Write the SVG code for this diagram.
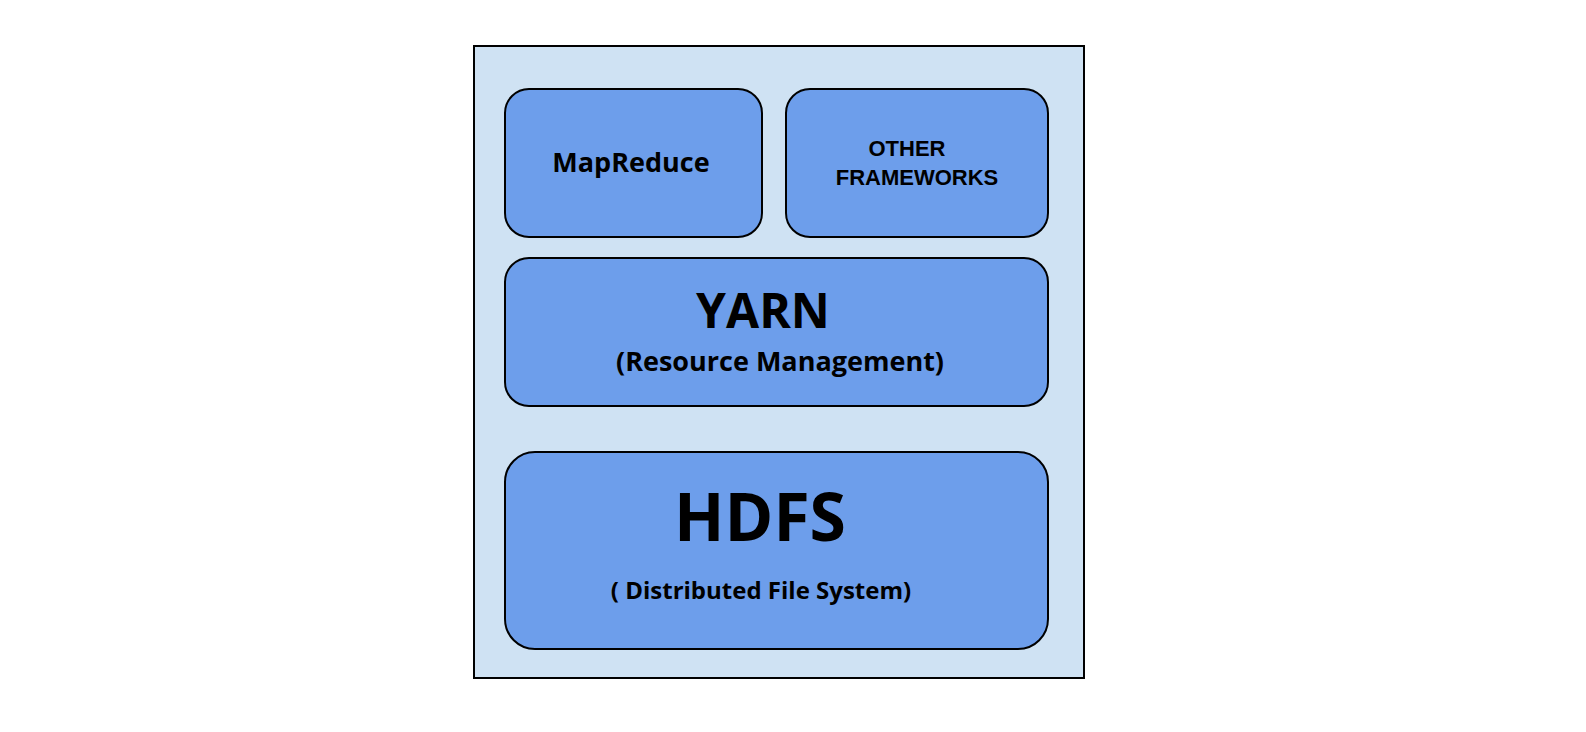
<svg xmlns="http://www.w3.org/2000/svg" width="1586" height="732" viewBox="0 0 1586 732">
<style>
.box{fill:#6d9eeb;stroke:#000;stroke-width:2}
.t{font-family:"Open Sans",sans-serif;font-weight:bold;fill:#000;text-anchor:middle}
.a{font-family:"Liberation Sans",Arial,sans-serif;font-weight:bold;fill:#000;text-anchor:middle}
</style>
<rect width="1586" height="732" fill="#fff"/>
<g id="outer"><rect x="474" y="46" width="610" height="632" fill="#cfe2f3" stroke="#000" stroke-width="2"/></g>
<g id="mapreduce"><rect class="box" x="505" y="89" width="257" height="148" rx="24"/><text class="t" x="631" y="172" font-size="27">MapReduce</text></g>
<g id="other"><rect class="box" x="786" y="89" width="262" height="148" rx="24"/><text class="a" x="907" y="156" font-size="22">OTHER</text><text class="a" x="917" y="185" font-size="22">FRAMEWORKS</text></g>
<g id="yarn"><rect class="box" x="505" y="258" width="543" height="148" rx="24"/><text class="t" x="763" y="328" font-size="48">YARN</text><text class="t" x="780" y="371" font-size="27">(Resource Management)</text></g>
<g id="hdfs"><rect class="box" x="505" y="452" width="543" height="197" rx="30"/><text class="t" x="760" y="541" font-size="66">HDFS</text><text class="t" x="761" y="599" font-size="24">( Distributed File System)</text></g>
<g id="connectors"/>
</svg>
